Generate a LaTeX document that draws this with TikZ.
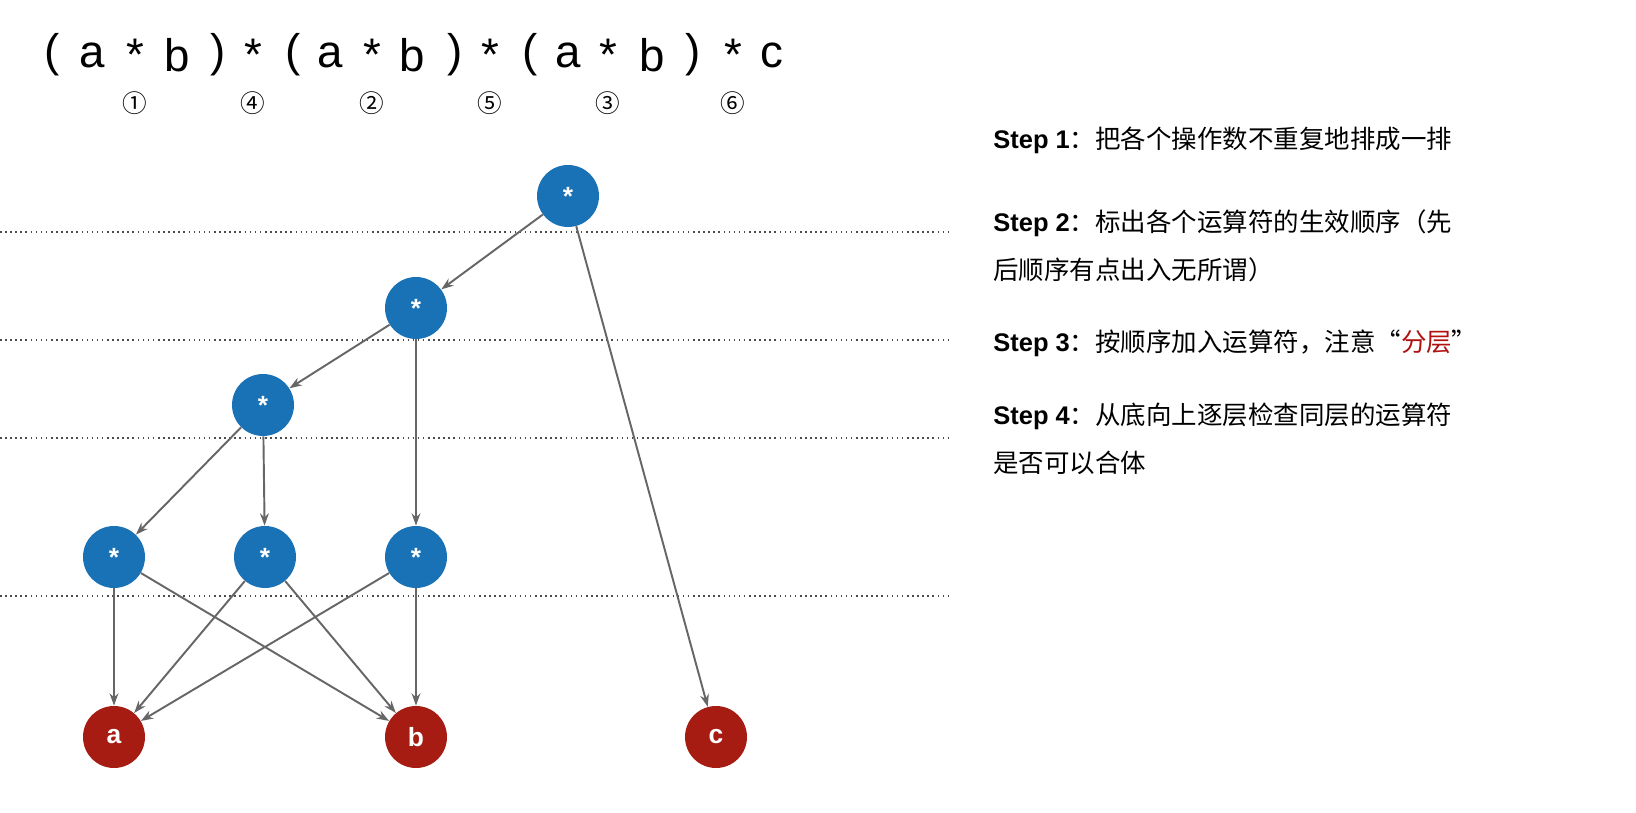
\documentclass[tikz,border=0pt]{standalone}
\usetikzlibrary{arrows.meta}
\usepackage{fontspec}
\setmainfont{Noto Sans CJK SC}
\newfontfamily\lat{Liberation Sans}
\begin{document}
\begin{tikzpicture}[x=0.02cm,y=-0.02cm,
  op/.style={circle,fill=opblue,minimum size=62*0.02cm,inner sep=0pt,text=white,font=\lat\fontsize{15}{15}\selectfont\bfseries},
  leaf/.style={circle,fill=leafred,minimum size=62*0.02cm,inner sep=0pt,text=white,font=\lat\fontsize{15}{15}\selectfont\bfseries},
  edge/.style={draw=edgegray,line width=1.1pt,-{Stealth[length=7pt,width=5pt]}},
  level/.style={dotted,line width=0.9pt,black!70},
  tok/.style={font=\lat\fontsize{26}{26}\selectfont,inner sep=0pt},
  num/.style={font=\fontsize{14}{14}\selectfont,inner sep=0pt},
  stp/.style={anchor=west,font=\fontsize{14.5}{17}\selectfont,inner sep=0pt}]
\definecolor{opblue}{HTML}{1A72B6}
\definecolor{leafred}{HTML}{A61C12}
\definecolor{edgegray}{HTML}{666666}
\definecolor{hl}{HTML}{B01010}
\useasboundingbox (0,0) rectangle (1636,813);
% top expression
\foreach \x/\t in {52/(,92/a,135/*,177/b,218/),253/*,293/(,330/a,372/*,412/b,455/),490/*,530/(,568/a,608/*,652/b,693/),733/*,772/c}
  \node[tok] at (\x,55) {\t};
\foreach \x/\t in {135/①,253/④,372/②,490/⑤,608/③,733/⑥}
  \node[num] at (\x,103) {\t};
% levels
\foreach \y in {232,340,438,596} \draw[level] (0,\y) -- (948,\y);
% nodes
\node[op] (t) at (568,196) {*};
\node[op] (m) at (416,308) {*};
\node[op] (l) at (263,405) {*};
\node[op] (b1) at (114,557) {*};
\node[op] (b2) at (265,557) {*};
\node[op] (b3) at (416,557) {*};
\node[leaf] (a) at (114,737) {a};
\node[leaf] (b) at (416,737) {b};
\node[leaf] (c) at (716,737) {c};
% edges
\draw[edge] (t) -- (m);
\draw[edge] (t) -- (c);
\draw[edge] (m) -- (l);
\draw[edge] (m) -- (b3);
\draw[edge] (l) -- (b1);
\draw[edge] (l) -- (b2);
\foreach \s in {b1,b2,b3} {\draw[edge] (\s) -- (a); \draw[edge] (\s) -- (b);}
% steps
\node[stp] (s1) at (993,140) {{\lat\bfseries Step 1}：把各个操作数不重复地排成一排};
\node[stp] (s2) at (993,223) {{\lat\bfseries Step 2}：标出各个运算符的生效顺序（先};
\node[stp] (s2b) at (993,270) {后顺序有点出入无所谓）};
\node[stp] (s3) at (993,343) {{\lat\bfseries Step 3}：按顺序加入运算符，注意“\textcolor{hl}{分层}”};
\node[stp] (s4) at (993,416) {{\lat\bfseries Step 4}：从底向上逐层检查同层的运算符};
\node[stp] (s4b) at (993,463) {是否可以合体};
\end{tikzpicture}
\end{document}
